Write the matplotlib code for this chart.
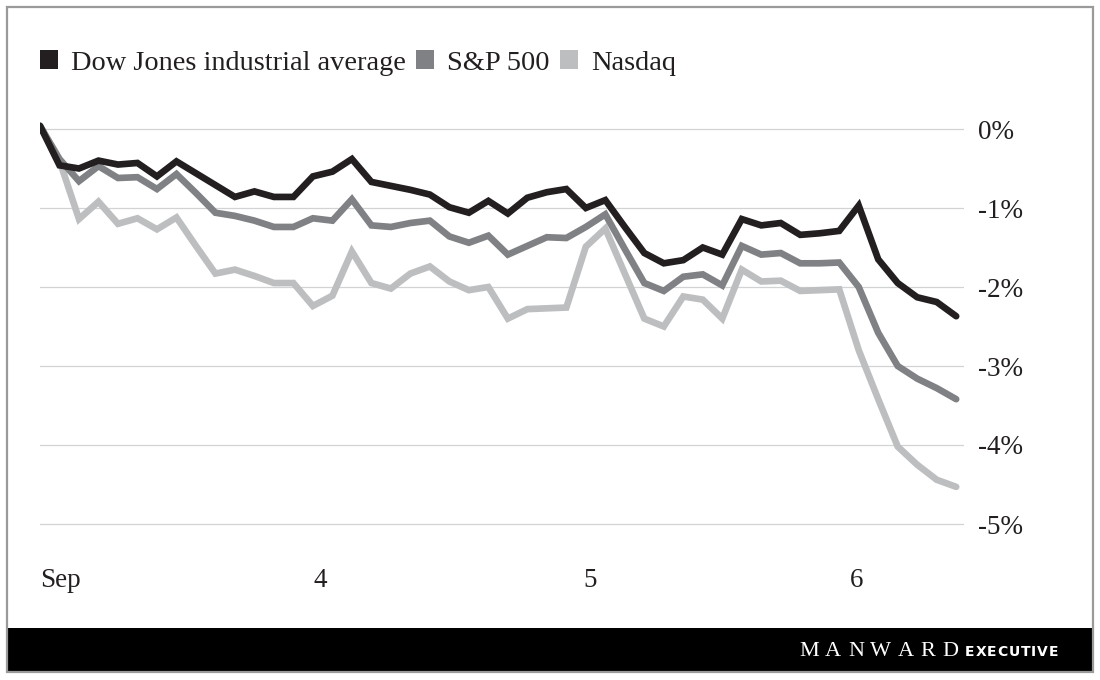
import matplotlib
matplotlib.use('Agg')
from matplotlib import pyplot as plt
from matplotlib.patches import Patch, Rectangle

# percent change, Sep 3 - Sep 6, half-hour points
dow = [0.04, -0.46, -0.50, -0.40, -0.45, -0.43, -0.60, -0.41, -0.56, -0.71,
       -0.86, -0.79, -0.86, -0.86, -0.60, -0.54, -0.38, -0.67, -0.72, -0.77,
       -0.83, -0.99, -1.06, -0.91, -1.07, -0.87, -0.80, -0.76, -1.00, -0.90,
       -1.24, -1.57, -1.70, -1.66, -1.50, -1.59, -1.14, -1.22, -1.19, -1.34,
       -1.32, -1.29, -0.97, -1.65, -1.95, -2.13, -2.19, -2.37]
sp500 = [0.04, -0.38, -0.66, -0.47, -0.62, -0.61, -0.76, -0.57, -0.81, -1.06,
         -1.10, -1.16, -1.24, -1.24, -1.13, -1.16, -0.89, -1.22, -1.24, -1.19,
         -1.16, -1.36, -1.44, -1.35, -1.59, -1.48, -1.37, -1.38, -1.24, -1.08,
         -1.52, -1.95, -2.05, -1.87, -1.84, -1.98, -1.48, -1.59, -1.57, -1.70,
         -1.70, -1.69, -2.00, -2.58, -3.00, -3.16, -3.28, -3.42]
nasdaq = [0.04, -0.40, -1.14, -0.92, -1.20, -1.13, -1.27, -1.12, -1.48, -1.83,
          -1.78, -1.86, -1.95, -1.95, -2.24, -2.11, -1.55, -1.95, -2.02, -1.83,
          -1.74, -1.93, -2.04, -2.00, -2.40, -2.28, -2.27, -2.26, -1.49, -1.26,
          -1.83, -2.40, -2.50, -2.12, -2.16, -2.40, -1.78, -1.93, -1.92, -2.05,
          -2.04, -2.03, -2.80, -3.42, -4.02, -4.25, -4.44, -4.53]

series_names = ['Dow Jones industrial average', 'S&P 500', 'Nasdaq']
colors = ['#231f20', '#808184', '#bcbec0']

day_ticks = [0, 14.4, 28.2, 41.9]
day_labels = ['Sep', '4', '5', '6']
y_ticks = [0, -1, -2, -3, -4, -5]
y_labels = ['0%', '-1%', '-2%', '-3%', '-4%', '-5%']

W, H = 1100, 680
SERIF = 'Liberation Serif'
TEXT = '#231f20'

fig = plt.figure(figsize=(W / 100, H / 100), dpi=100)
ax = fig.add_axes([40 / W, 140 / H, 924 / W, 430 / H])

xs = list(range(len(dow)))
# draw light first so the Dow sits on top
for vals, c, z in [(nasdaq, colors[2], 2), (sp500, colors[1], 3), (dow, colors[0], 4)]:
    ax.plot(xs, vals, color=c, lw=4.8, zorder=z,
            solid_capstyle='round', solid_joinstyle='miter')

ax.set_xlim(0, 47.4)
ax.set_ylim(-(540 - 129) / 79, (129 - 110) / 79)

for y in y_ticks:
    ax.axhline(y, color='#d1d3d4', lw=0.9, zorder=1)

ax.yaxis.tick_right()
ax.set_yticks(y_ticks)
ax.set_yticklabels(y_labels, fontfamily=SERIF, fontsize=19.5, color=TEXT)
ax.tick_params(axis='y', length=0, pad=10)

ax.set_xticks(day_ticks)
ax.set_xticklabels(day_labels, fontfamily=SERIF, fontsize=19.5, color=TEXT)
ax.get_xticklabels()[0].set_horizontalalignment('left')
ax.tick_params(axis='x', length=0, pad=20)

for s in ax.spines.values():
    s.set_visible(False)

handles = [Patch(facecolor=c, edgecolor='none') for c in colors]
fig.legend(handles, series_names, loc='center left',
           bbox_to_anchor=(40 / W, 1 - 63 / H), ncol=3, frameon=False,
           handlelength=0.65, handleheight=0.65, handletextpad=0.45,
           columnspacing=0.35, borderpad=0, borderaxespad=0,
           prop={'family': SERIF, 'size': 20.4}, labelcolor=TEXT)

# outer frame and footer band
fig.patches.append(Rectangle((7 / W, 8 / H), 1086 / W, 44 / H, transform=fig.transFigure,
                             facecolor='black', edgecolor='none', zorder=0))
fig.patches.append(Rectangle((7 / W, 8 / H), 1086 / W, 665.5 / H, transform=fig.transFigure,
                             facecolor='none', edgecolor='#9a9a9a', lw=1.6, zorder=1))


def spaced_text(s, x_start, x_end, y, **kw):
    renderer = fig.canvas.get_renderer()
    items = [fig.text(0, y / H, ch, va='baseline', ha='left', **kw) for ch in s]
    widths = [t.get_window_extent(renderer).width for t in items]
    gap = (x_end - x_start - sum(widths)) / max(1, len(s) - 1)
    x = x_start
    for t, w in zip(items, widths):
        t.set_x(x / W)
        x += w + gap


spaced_text('MANWARD', 799, 958, H - 656, color='white', fontfamily=SERIF, fontsize=16)
spaced_text('EXECUTIVE', 965, 1058, H - 655.5, color='white', fontfamily='DejaVu Sans',
            fontweight='bold', fontsize=10)

plt.savefig('out.png', dpi=100)
